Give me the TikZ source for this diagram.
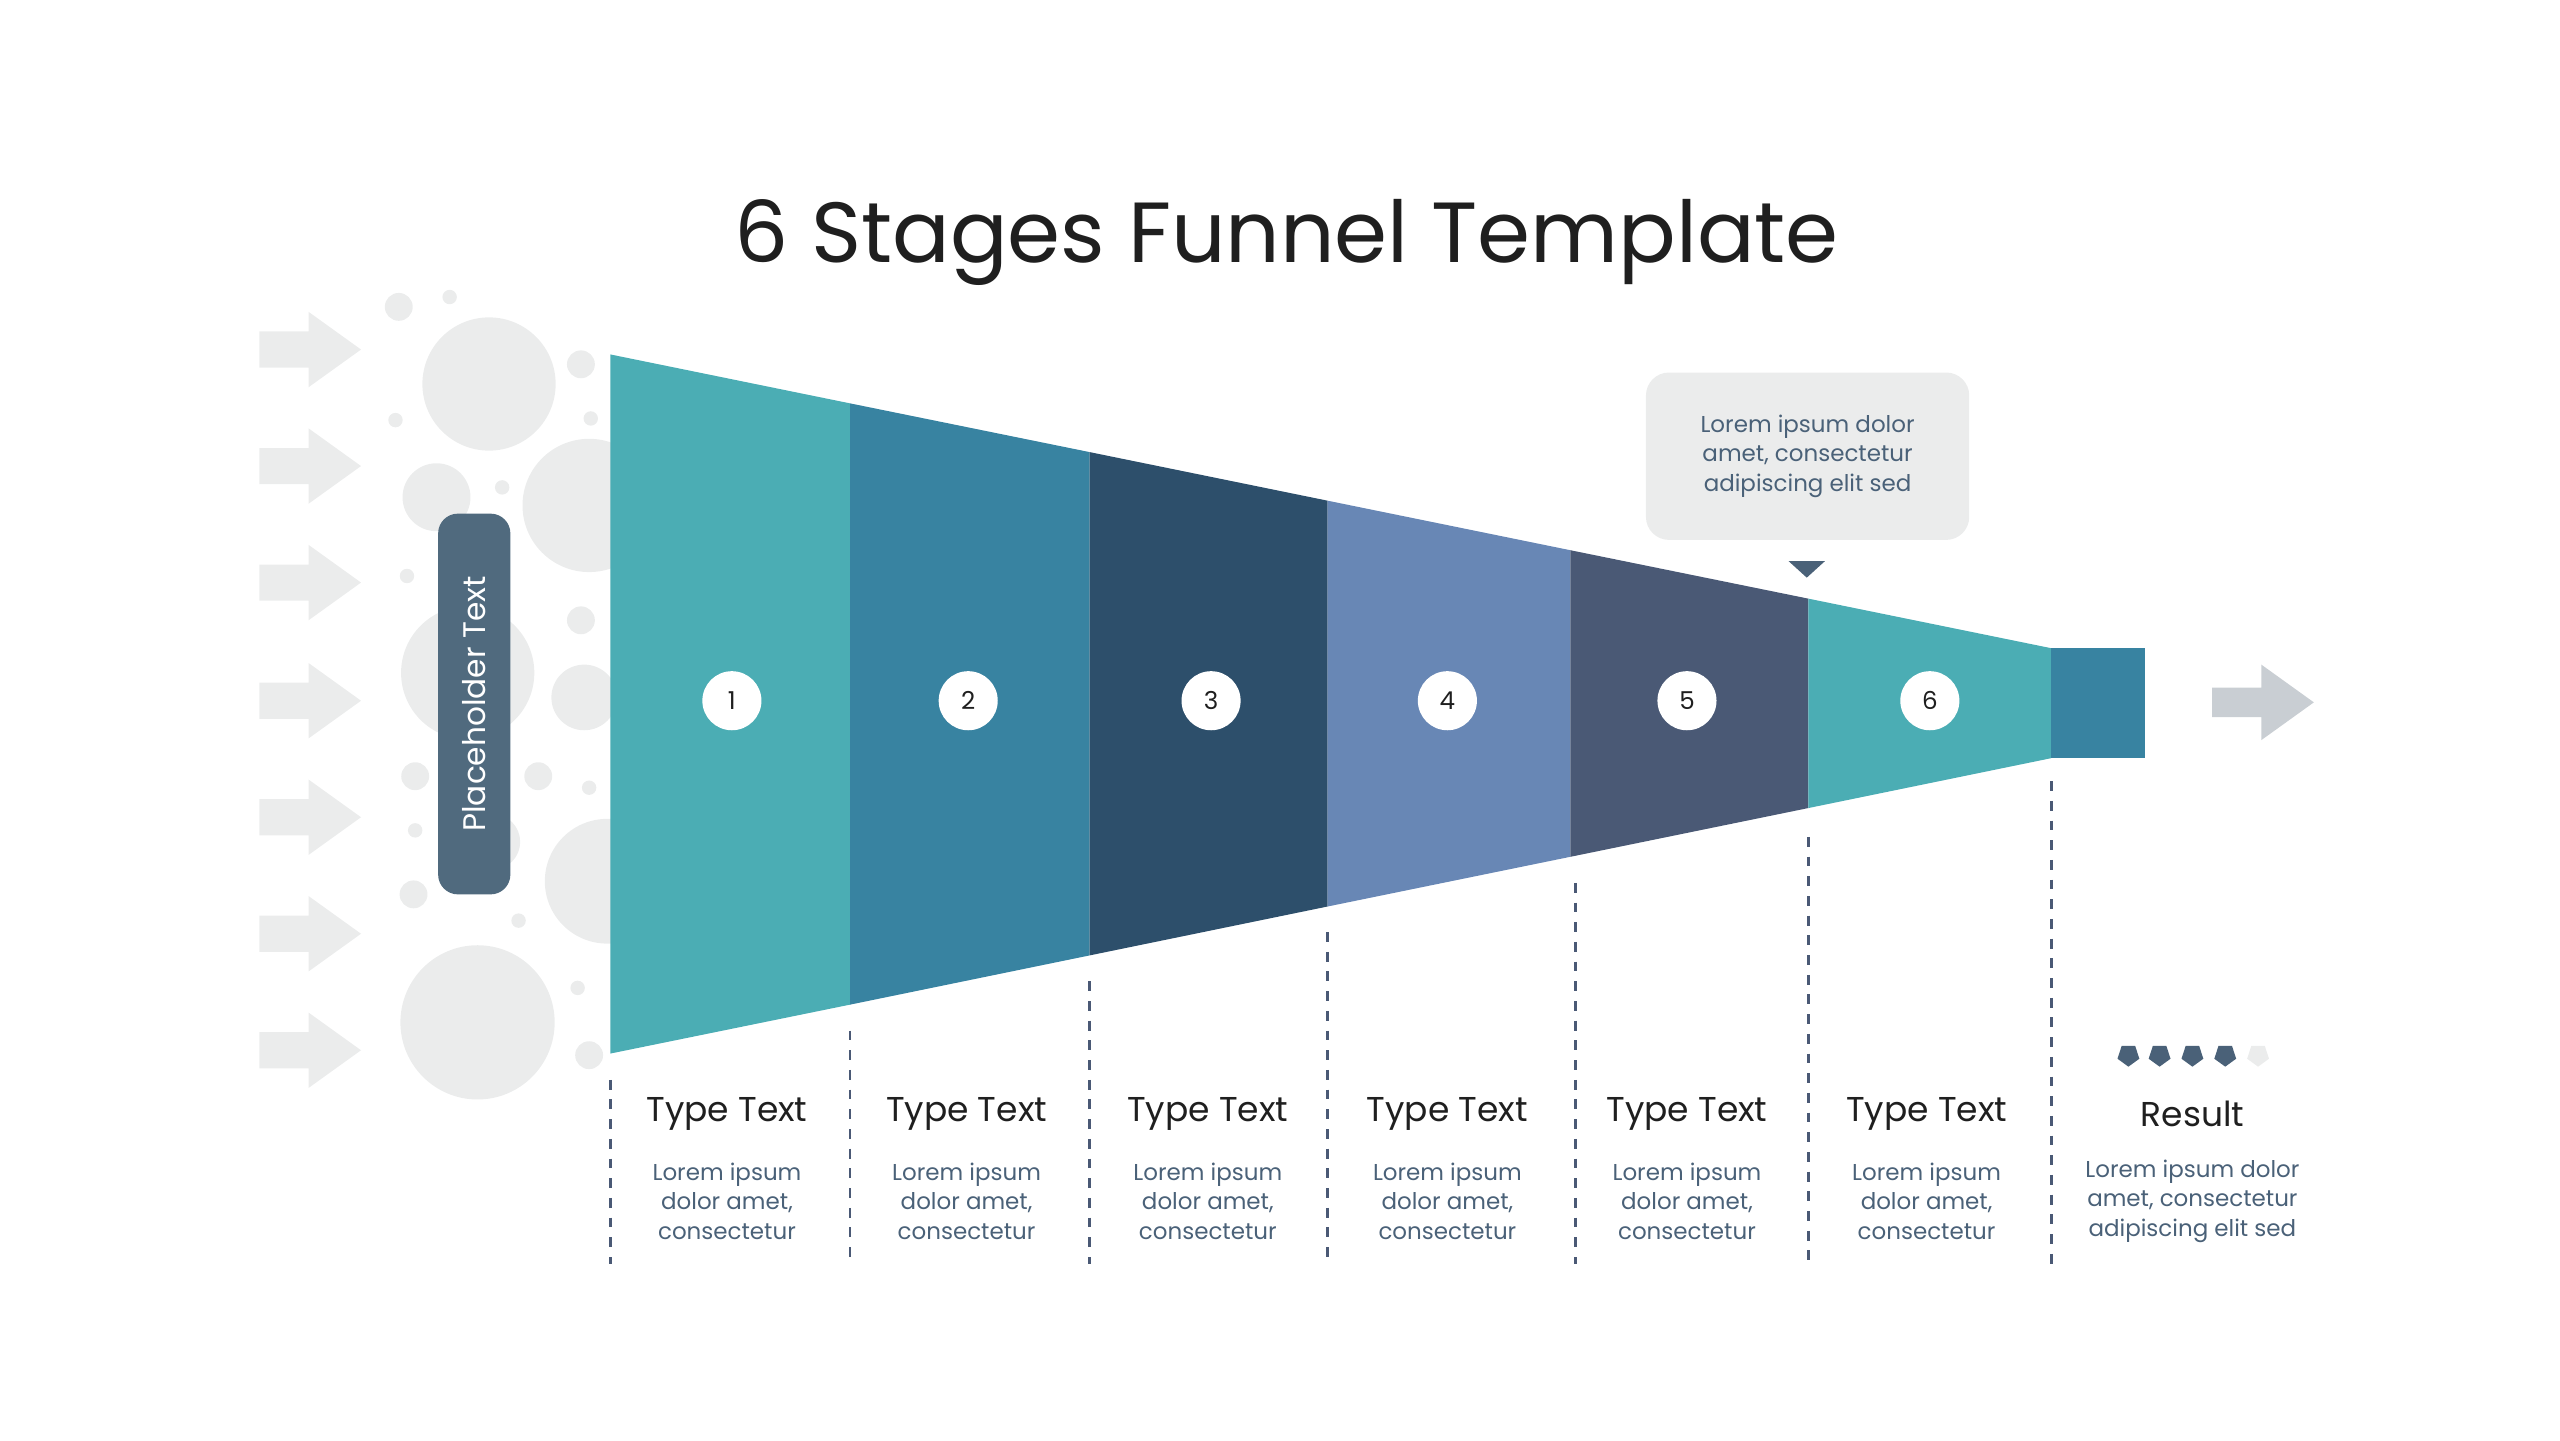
\documentclass[tikz,border=0pt]{standalone}
\usepackage{fontspec}
\setmainfont{Poppins}
\usepackage{tikz}
\usetikzlibrary{positioning}
\definecolor{teal1}{HTML}{4BADB4}
\definecolor{blue2}{HTML}{3883A1}
\definecolor{navy3}{HTML}{2D4F6B}
\definecolor{lav4}{HTML}{6887B5}
\definecolor{slate5}{HTML}{4A5975}
\definecolor{paleg}{HTML}{EBECEC}
\definecolor{arrowg}{HTML}{C9CED3}
\definecolor{boxg}{HTML}{506A7E}
\definecolor{txtg}{HTML}{4A6178}
\definecolor{inkk}{HTML}{1F1F1F}
\tikzset{
  numdot/.style={circle,fill=white,minimum size=18pt,inner sep=0pt,font=\fontsize{7.5}{9}\selectfont,text=inkk},
  headtxt/.style={font=\fontsize{10.5}{12}\selectfont,text=inkk},
  bodytxt/.style={font=\fontsize{7}{9}\selectfont,text=txtg,align=center},
  divline/.style={draw=slate5,dashed,line width=0.8pt}
}
\begin{document}
\begin{tikzpicture}[x=0.5pt,y=0.5pt,yscale=-1,xscale=1]
\useasboundingbox (0,0) rectangle (1560,878);

%Shape: Bubbles
\foreach \cx/\cy/\r in {243/187/8.5,274/181/4.4,298/234/40.6,354/222/8.5,241/256/4.4,360/255/4.4,266/303/20.7,306/297/4.4,359/308/40.6,248/351/4.4,354/378/8.5,285/410/40.6,356/425/20,253/473/8.5,328/473/8.5,359/480/4.4,253/506/4.4,300/513/17,370/537/38,252/545/8.5,316/561/4.4,291/623/47,352/602/4.4,359/643/8.5}
  \fill[paleg] (\cx,\cy) circle (\r);
%Shape: Input arrows
\foreach \ay in {213,284,355,427,498,569,640}
  \fill[paleg] (158,\ay-11) -- (188,\ay-11) -- (188,\ay-23) -- (220,\ay) -- (188,\ay+23) -- (188,\ay+11) -- (158,\ay+11) -- cycle;

%Shape: Funnel stages
\fill[teal1]  (372,216) -- (518,245.8) -- (518,612.2) -- (372,642) -- cycle;
\fill[blue2]  (518,245.8) -- (664,275.5) -- (664,582.2) -- (518,612.2) -- cycle;
\fill[navy3]  (664,275.5) -- (809,305.1) -- (809,552.4) -- (664,582.2) -- cycle;
\fill[lav4]   (809,305.1) -- (957,335.3) -- (957,522.1) -- (809,552.4) -- cycle;
\fill[slate5] (957,335.3) -- (1102,364.8) -- (1102,492.4) -- (957,522.1) -- cycle;
\fill[teal1]  (1102,364.8) -- (1250,395) -- (1250,462) -- (1102,492.4) -- cycle;
\fill[blue2]  (1250,395) rectangle (1307,462);

%Shape: Output arrow
\fill[arrowg] (1348,419) -- (1378,419) -- (1378,405) -- (1410,428) -- (1378,451) -- (1378,437) -- (1348,437) -- cycle;

% Placeholder box
\node (ph) [fill=boxg,rounded corners=6pt,minimum width=22pt,minimum height=116pt,inner sep=0pt] at (289,429) {};
\node [rotate=90,text=white,font=\fontsize{9.5}{11}\selectfont] at (ph.center) {Placeholder Text};

% Title
\node (title) [font=\fontsize{26}{30}\selectfont,text=inkk] at (784,148) {6 Stages Funnel Template};

% Callout
\node (callout) [fill=paleg,rounded corners=7pt,minimum width=98.5pt,minimum height=51pt,bodytxt] at (1101.5,278) {Lorem ipsum dolor\\amet, consectetur\\adipiscing elit sed};
\fill[txtg] (1090,342) -- (1112,342) -- (1101,352) -- cycle;

% Stage numbers
\foreach \nx/\n in {446/1,590/2,738/3,882/4,1028/5,1176/6}
  \node (n\n) [numdot] at (\nx,427) {\n};

% Dividers
\foreach \dx/\dy in {372/658,518/628,664/598,809/568,960/538,1102/510,1250/476}
  \draw[divline] (\dx,\dy) -- (\dx,770);

% Labels
\foreach \lx/\n in {443/1,589/2,736/3,882/4,1028/5,1174/6}{
  \node (t\n) [headtxt] at (\lx,679) {Type Text};
  \node (d\n) [bodytxt] at (\lx,732) {Lorem ipsum\\dolor amet,\\consectetur};
}
\node (res) [headtxt] at (1336,679) {Result};
\node (resd) [bodytxt] at (1336,732) {Lorem ipsum dolor\\amet, consectetur\\adipiscing elit sed};

% Stars
\foreach \sx/\sc in {1297/txtg,1316/txtg,1336/txtg,1356/txtg,1376/paleg}
  \fill[\sc] (\sx,643) +(90:7) -- +(162:7) -- +(234:7) -- +(306:7) -- +(18:7) -- cycle
    [rotate around={0:(\sx,643)}];
\end{tikzpicture}
\end{document}
